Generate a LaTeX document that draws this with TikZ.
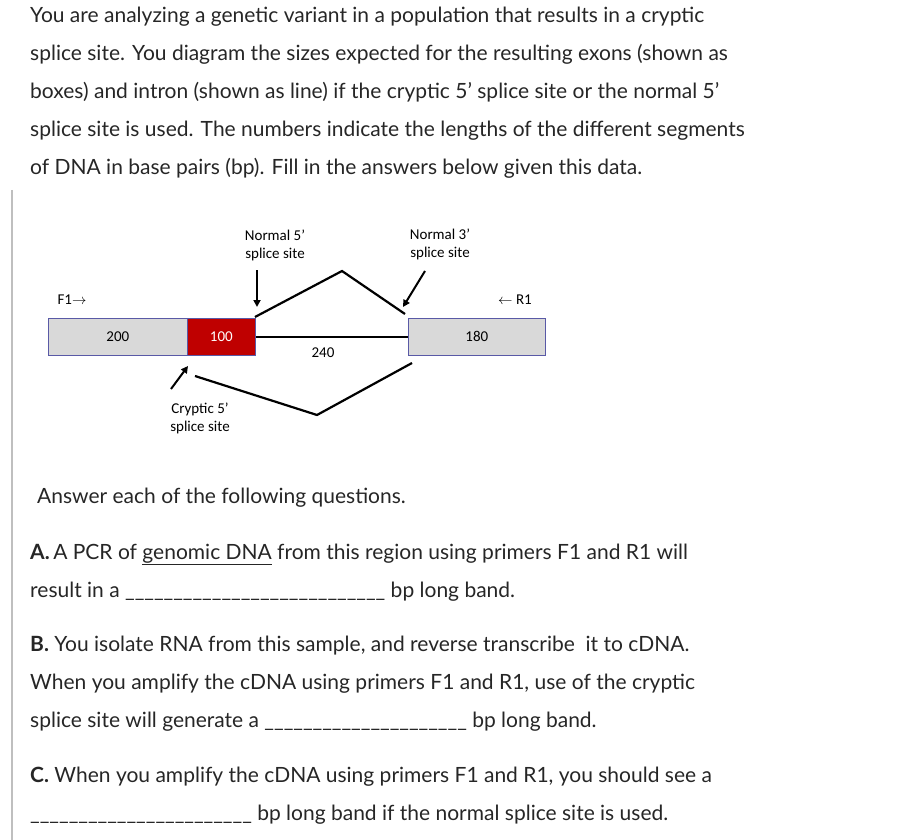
\documentclass[tikz,border=0pt]{standalone}
\usepackage{fontspec}
\setmainfont{Lato}
\newfontfamily\carfont{Carlito}
\usetikzlibrary{arrows.meta}
\begin{document}
\begin{tikzpicture}[x=1pt,y=-1pt,
  txt/.style={anchor=base west,inner sep=0pt,font=\fontsize{21}{25}\selectfont,text=black!85},
  lab/.style={inner sep=0pt,font=\carfont\fontsize{15}{18}\selectfont,align=center},
  exon/.style={draw=blue!30!gray,fill=gray!30,line width=0.8pt},
  thick2/.style={line width=2.2pt},
  arr/.style={line width=2pt,-{Triangle[length=7pt,width=7pt]}}]
\useasboundingbox (0,0) rectangle (922,840);
\draw[gray!50,line width=1.5pt] (12,190) -- (12,840);
% header text
\node[txt] (t1) at (30,23) {You are analyzing a genetic variant in a population that results in a cryptic};
\node[txt] (t2) at (30,61) {splice site. You diagram the sizes expected for the resulting exons (shown as};
\node[txt] (t3) at (30,99) {boxes) and intron (shown as line) if the cryptic 5’ splice site or the normal 5’};
\node[txt] (t4) at (30,137) {splice site is used. The numbers indicate the lengths of the different segments};
\node[txt] (t5) at (30,175) {of DNA in base pairs (bp). Fill in the answers below given this data.};
% diagram
\node[exon,minimum width=139,minimum height=37,anchor=north west] (e1) at (48,318) {};
\node[draw=blue!30!gray,fill=red!75!black,line width=0.8pt,minimum width=68,minimum height=37,anchor=north west] (e2) at (187,318) {};
\node[exon,minimum width=137,minimum height=37,anchor=north west] (e3) at (408,318) {};
\node[lab] at (e1) {200};
\node[lab,text=white] at (e2) {100};
\node[lab] at (e3) {180};
\draw[thick2] (e2.east) -- (e3.west);
\node[lab] (n240) at (323,353) {240};
\coordinate (u1) at (255,317); \coordinate (u2) at (342,271); \coordinate (u3) at (405,314);
\draw[thick2] (u1) -- (u2) -- (u3);
\coordinate (l1) at (195,376); \coordinate (l2) at (317,415); \coordinate (l3) at (412,363);
\draw[thick2] (l1) -- (l2) -- (l3);
\node[lab] (n5) at (275,245) {Normal 5’\\splice site};
\node[lab] (n3) at (440,244) {Normal 3’\\splice site};
\node[lab] (c5) at (200,418) {Cryptic 5’\\splice site};
\coordinate (a1) at (257,270); \coordinate (a2) at (257,307);
\draw[arr] (a1) -- (a2);
\coordinate (b1) at (425,271); \coordinate (b2) at (403,307);
\draw[arr] (b1) -- (b2);
\coordinate (c1) at (171,389); \coordinate (c2) at (188,366);
\draw[arr] (c1) -- (c2);
\node[lab] (f1) at (72,300) {F1$\rightarrow$};
\node[lab] (r1) at (515,300) {$\leftarrow$ R1};
% questions
\node[txt] (q0) at (37,503) {Answer each of the following questions.};
\node[txt] (qa1) at (30,559) {\textbf{A.}\,A PCR of \underline{genomic DNA} from this region using primers F1 and R1 will};
\node[txt] (qa2) at (30,597) {result in a \_\_\_\_\_\_\_\_\_\_\_\_\_\_\_\_\_\_\_\_\_\_\_\_\_\_\_ bp long band.};
\node[txt] (qb1) at (30,651) {\textbf{B.} You isolate RNA from this sample, and reverse transcribe\ \ it to cDNA.};
\node[txt] (qb2) at (30,689) {When you amplify the cDNA using primers F1 and R1, use of the cryptic};
\node[txt] (qb3) at (30,727) {splice site will generate a \_\_\_\_\_\_\_\_\_\_\_\_\_\_\_\_\_\_\_\_\_ bp long band.};
\node[txt] (qc1) at (30,782) {\textbf{C.} When you amplify the cDNA using primers F1 and R1, you should see a};
\node[txt] (qc2) at (30,820) {\_\_\_\_\_\_\_\_\_\_\_\_\_\_\_\_\_\_\_\_\_\_\_ bp long band if the normal splice site is used.};
\end{tikzpicture}
\end{document}
